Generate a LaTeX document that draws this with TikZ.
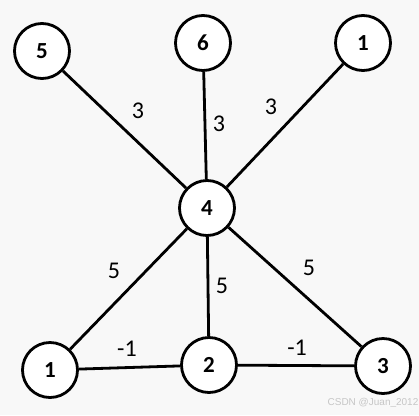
\documentclass[tikz,border=0pt]{standalone}
\usepackage{fontspec}
\setmainfont{Carlito}
\newfontfamily\wmfont{Liberation Sans}
\definecolor{paper}{HTML}{F8F8F8}

\tikzset{
    vertex/.style={circle, draw, line width=2.8pt, fill=white, minimum size=55pt,
        inner sep=0pt, font=\fontsize{23}{23}\selectfont\bfseries},
    edge/.style={line width=2.8pt},
    weight/.style={font=\fontsize{24}{24}\selectfont},
}

\begin{document}
\begin{tikzpicture}[x=1pt, y=-1pt]
    % page and margins
    \fill[paper] (0,0) rectangle (419,415);
    \useasboundingbox (0,0) rectangle (419,415);
    % vertices
    \node[vertex] (v5)  at (42,51)   {5};
    \node[vertex] (v6)  at (203,43)  {6};
    \node[vertex] (v1t) at (363,43)  {1};
    \node[vertex] (v4)  at (207,208) {4};
    \node[vertex] (v1)  at (50,370)  {1};
    \node[vertex] (v2)  at (209,365) {2};
    \node[vertex] (v3)  at (383,366) {3};
    % edges
    \foreach \a/\b in {v5/v4, v6/v4, v1t/v4, v4/v1, v4/v2, v4/v3, v1/v2, v2/v3} {
        \draw[edge] (\a) -- (\b);
    }
    % weights
    \foreach \n/\x/\y/\w in {w54/138/111/3, w64/219/124/3, w14/271/107/3,
                             w41/114/271/5, w42/222/286/5, w43/309/268/5,
                             w12/127/349/-1, w23/297/348/-1} {
        \node[weight] (\n) at (\x,\y) {\w};
    }
    \node[gray!45, font=\wmfont\fontsize{10}{10}\selectfont] (wm) at (373,403) {CSDN @Juan\_2012};
\end{tikzpicture}
\end{document}
